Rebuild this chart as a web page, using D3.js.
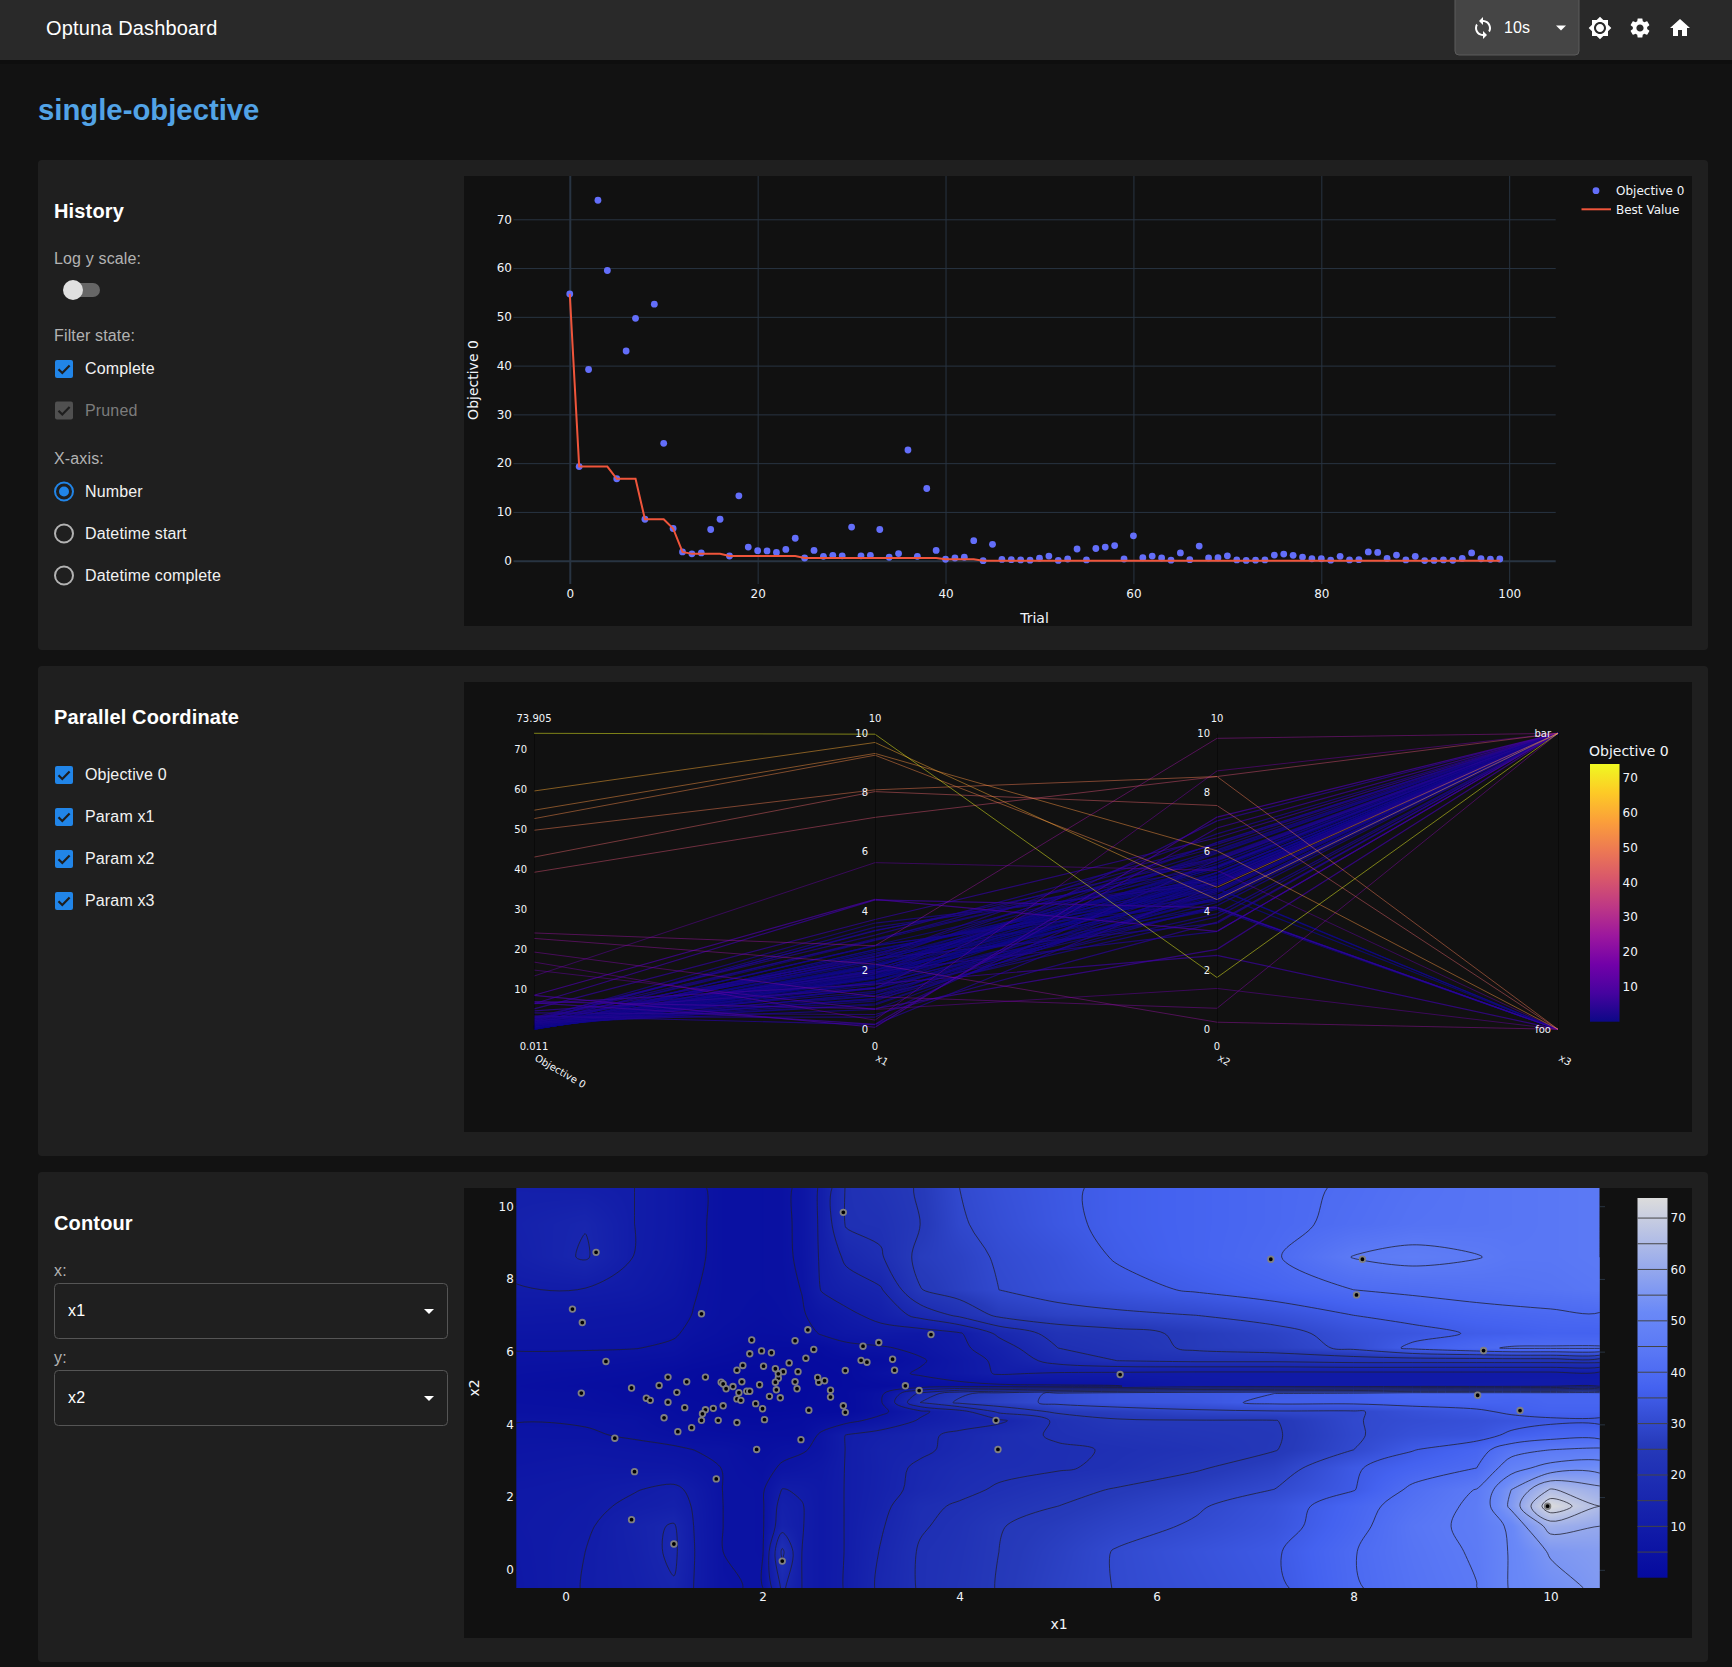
<!DOCTYPE html>
<html>
<head>
<meta charset="utf-8">
<title>Optuna Dashboard</title>
<script src="https://cdn.jsdelivr.net/npm/d3@7"></script>
<style>
  html, body { margin: 0; padding: 0; background: #121212; }
  svg { display: block; }
  text { font-family: "Liberation Sans", Arial, sans-serif; letter-spacing: 0.15px; }
  .plot text { font-family: "DejaVu Sans", Verdana, sans-serif; fill: #f2f5fa; letter-spacing: 0; }
</style>
</head>
<body>
<div id="page"></div>
<script>
// ---- data ----

// objective value of each trial, trial number is the index
var objectiveValues = [
  54.7, 19.3, 39.2, 73.905, 59.5, 16.8, 43.0, 49.7, 8.5, 52.6,
  24.06, 6.6, 1.8, 1.4, 1.6, 6.4, 8.5, 0.96, 13.3, 2.8,
  2.05, 2.0, 1.7, 2.3, 4.6, 0.55, 2.1, 0.9, 1.1, 1.0,
  6.9, 1.0, 1.1, 6.4, 0.7, 1.45, 22.7, 0.9, 14.8, 2.1,
  0.3, 0.55, 0.7, 4.1, 0.011, 3.35, 0.25, 0.2, 0.15, 0.1,
  0.5, 0.95, 0.05, 0.35, 2.4, 0.15, 2.5, 2.8, 3.1, 0.35,
  5.1, 0.6, 0.95, 0.55, 0.1, 1.6, 0.2, 3.0, 0.55, 0.6,
  1.0, 0.15, 0.05, 0.1, 0.15, 1.15, 1.35, 1.1, 0.75, 0.4,
  0.4, 0.1, 0.9, 0.15, 0.2, 1.8, 1.7, 0.45, 1.15, 0.15,
  0.9, 0.03, 0.06, 0.15, 0.08, 0.45, 1.6, 0.4, 0.3, 0.35
];

var bestValues = [
  54.7, 19.3, 19.3, 19.3, 19.3, 16.8, 16.8, 16.8, 8.5, 8.5,
  8.5, 6.6, 1.8, 1.4, 1.4, 1.4, 1.4, 0.96, 0.96, 0.96,
  0.96, 0.96, 0.96, 0.96, 0.96, 0.55, 0.55, 0.55, 0.55, 0.55,
  0.55, 0.55, 0.55, 0.55, 0.55, 0.55, 0.55, 0.55, 0.55, 0.55,
  0.3, 0.3, 0.3, 0.3, 0.011, 0.011, 0.011, 0.011, 0.011, 0.011,
  0.011, 0.011, 0.011, 0.011, 0.011, 0.011, 0.011, 0.011, 0.011, 0.011,
  0.011, 0.011, 0.011, 0.011, 0.011, 0.011, 0.011, 0.011, 0.011, 0.011,
  0.011, 0.011, 0.011, 0.011, 0.011, 0.011, 0.011, 0.011, 0.011, 0.011,
  0.011, 0.011, 0.011, 0.011, 0.011, 0.011, 0.011, 0.011, 0.011, 0.011,
  0.011, 0.011, 0.011, 0.011, 0.011, 0.011, 0.011, 0.011, 0.011, 0.011
];

var paramX1 = [
  9.32, 1.10, 7.16, 9.97, 9.69, 0.31, 8.03, 8.09, 4.39, 9.26,
  2.82, 0.17, 2.33, 2.52, 3.00, 4.37, 0.07, 1.74, 5.63, 2.46,
  3.34, 3.45, 1.28, 3.32, 1.38, 2.27, 1.14, 1.87, 0.95, 1.99,
  0.70, 1.04, 2.84, 1.53, 1.42, 0.82, 2.20, 2.44, 0.67, 2.39,
  1.74, 2.69, 1.13, 0.50, 1.97, 0.16, 2.21, 1.58, 1.74, 2.16,
  2.69, 2.09, 1.84, 2.57, 3.02, 1.78, 3.59, 1.94, 0.41, 2.36,
  3.71, 2.47, 2.84, 1.50, 1.70, 3.06, 1.93, 3.18, 1.23, 2.02,
  1.55, 2.16, 2.13, 1.79, 1.60, 1.04, 0.86, 1.38, 1.39, 2.01,
  2.56, 2.35, 1.21, 1.63, 2.33, 1.89, 1.00, 2.63, 2.82, 2.18,
  1.80, 2.14, 1.87, 2.07, 1.76, 1.42, 0.67, 1.60, 2.13, 2.00
];

var paramX2 = [
  6.03, 0.71, 8.54, 1.75, 4.38, 8.73, 7.56, 8.54, 3.31, 4.80,
  9.83, 6.80, 6.30, 6.06, 5.76, 4.11, 7.17, 4.05, 5.37, 6.60,
  5.49, 5.06, 3.91, 5.79, 7.04, 5.69, 3.80, 5.94, 5.07, 6.02,
  2.70, 5.30, 4.33, 2.50, 4.40, 4.72, 0.24, 5.82, 1.38, 3.58,
  5.49, 4.75, 4.88, 3.62, 5.09, 4.86, 5.45, 5.16, 4.70, 5.27,
  4.94, 5.97, 4.91, 5.16, 6.15, 4.66, 4.93, 3.31, 5.73, 5.45,
  6.47, 4.39, 5.48, 4.44, 5.04, 5.71, 4.57, 6.25, 5.17, 4.13,
  4.11, 5.39, 5.16, 5.17, 5.11, 4.61, 4.66, 4.11, 4.29, 5.60,
  5.29, 4.98, 4.46, 4.98, 5.17, 6.32, 4.18, 5.20, 4.51, 4.73,
  5.62, 4.95, 4.91, 4.77, 4.87, 5.30, 5.00, 4.51, 5.53, 4.43
];

var paramX3 = [
  "foo", "bar", "bar", "bar", "bar", "bar", "foo", "foo", "bar", "bar",
  "bar", "bar", "bar", "bar", "bar", "foo", "bar", "foo", "foo", "bar",
  "bar", "bar", "bar", "bar", "bar", "bar", "bar", "bar", "bar", "bar",
  "bar", "bar", "bar", "foo", "bar", "bar", "foo", "bar", "foo", "bar",
  "bar", "foo", "bar", "bar", "bar", "bar", "bar", "bar", "bar", "bar",
  "bar", "bar", "bar", "bar", "bar", "bar", "bar", "bar", "bar", "bar",
  "bar", "bar", "bar", "bar", "bar", "bar", "foo", "bar", "bar", "foo",
  "foo", "bar", "bar", "bar", "bar", "bar", "bar", "foo", "bar", "bar",
  "bar", "bar", "bar", "bar", "bar", "bar", "bar", "bar", "bar", "bar",
  "bar", "bar", "bar", "foo", "bar", "bar", "bar", "bar", "bar", "bar"
];

// tick labels
var historyXTicks = [0, 20, 40, 60, 80, 100];
var historyYTicks = [0, 10, 20, 30, 40, 50, 60, 70];
var objectiveTicks = [10, 20, 30, 40, 50, 60, 70];
var paramTicks = [0, 2, 4, 6, 8, 10];
var categories = ["bar", "foo"];
var contourTicks = [0, 2, 4, 6, 8, 10];
var contourLevels = [5, 10, 15, 20, 25, 30, 35, 40, 45, 50, 55, 60, 65, 70];

// contour surface, estimated from the colours and lines of the picture
var gridX1 = [-0.5, 0.2, 0.7, 1.1, 1.3, 1.6, 2.0, 2.2, 2.4, 2.6, 2.85, 3.2, 3.6, 4.0, 4.4, 5.0, 5.6, 6.4, 7.2, 8.0, 8.6, 9.25, 9.6, 10.0, 10.5];
var gridX2 = [10.5, 9.5, 8.6, 7.7, 7.0, 6.5, 6.1, 5.75, 5.4, 5.05, 4.85, 4.6, 4.35, 4.1, 3.7, 3.3, 2.8, 2.2, 1.75, 1.2, 0.5, -0.5];
var gridZ = [
  [11.5, 11, 10, 8, 5.8, 4, 3.5, 4, 6, 11, 20.5, 22.5, 25.5, 30, 32, 34.2, 36, 37.5, 39, 40.5, 42, 43, 43.5, 44, 45],
  [12.5, 14.8, 10, 8, 5.8, 4, 3.5, 4, 6, 11, 20.5, 21, 25, 29.5, 31.5, 34, 36, 37.5, 39, 41, 42.5, 43, 43.5, 44, 45],
  [11.8, 15.5, 9.8, 7.8, 5.7, 4, 3.5, 4, 5.8, 10.8, 16, 19.5, 26.5, 28, 30.6, 32.5, 35.4, 37.5, 39.5, 45.2, 46.5, 45.2, 44, 44, 45],
  [9.6, 9.7, 8.8, 7, 5.2, 4, 3.5, 3.8, 5.1, 10.3, 12.5, 14.5, 24.8, 27.5, 30, 32, 33.5, 35.5, 37.5, 40, 41, 42, 42.5, 43, 44],
  [7.5, 7, 6.5, 5.8, 4.9, 3.9, 3, 3.5, 4.6, 6.5, 8.8, 11.5, 16.5, 21, 26, 28, 29, 30, 32, 35, 36.5, 38, 38.5, 39, 39.5],
  [6, 6, 5.8, 5.3, 4.3, 3.3, 2.4, 2.6, 3.2, 5.4, 6.8, 8, 7.5, 9.5, 16, 22, 23.5, 26, 28.3, 32, 33.5, 35.5, 36, 37, 37],
  [5.2, 5.2, 5.1, 4.5, 3.2, 2.5, 1.4, 1.3, 1.3, 1.6, 3.8, 4.5, 6, 9, 12.5, 20, 22, 26, 27.5, 31, 36, 39, 40.5, 40.5, 40.5],
  [4.4, 4.2, 3.6, 3, 2.2, 1.5, 0.9, 0.7, 0.6, 0.9, 1.3, 1.9, 4.5, 7.5, 11, 17, 20, 21, 21, 22, 22, 22, 22, 22, 22],
  [3.6, 3, 2.4, 1.5, 0.9, 0.5, 0.35, 0.25, 0.35, 0.5, 0.95, 3.5, 5.5, 7.5, 10.5, 9.5, 9, 8.5, 8.5, 8.5, 8.5, 8.5, 8.5, 8.5, 8.5],
  [3, 2.2, 1.6, 0.95, 0.7, 0.2, 0.02, 0.05, 0.12, 0.35, 0.9, 1.5, 2.5, 3.5, 4, 4.5, 4.8, 8, 8.5, 8.5, 9, 9, 9.3, 9.5, 9.5],
  [3.3, 3, 1.9, 0.85, 0.6, 0.2, 0.05, 0.1, 0.2, 0.45, 1.2, 4, 16, 24, 27, 31, 33, 34, 35, 36, 38, 38, 38, 38, 38],
  [3.5, 3.2, 2.2, 1.2, 0.9, 0.45, 0.2, 0.2, 0.25, 0.5, 0.9, 4.5, 20, 26, 28, 31, 33, 33.5, 36, 36, 37, 37.5, 37, 38, 38],
  [3.9, 3.6, 3, 1.9, 1.2, 0.8, 0.4, 0.4, 0.55, 0.8, 1.15, 4, 9, 13, 21, 26, 27, 29, 29.5, 29.5, 32, 34, 36, 37, 37],
  [4.9, 4.7, 4.2, 2.2, 1.9, 1.1, 0.9, 1.4, 1.8, 2.7, 3.8, 6.5, 10.5, 13, 14, 21, 24.5, 24.7, 24.8, 29.8, 31, 32, 33, 34, 34],
  [5.6, 5.4, 4.6, 3.8, 3, 2.6, 2.3, 2.2, 2.3, 5.8, 10.2, 12, 14, 16, 18.5, 20.5, 22, 23.5, 24.5, 29.5, 32, 33, 36, 38, 38],
  [6, 6.5, 6, 5.5, 5, 4.8, 2.9, 4, 4.6, 6, 10.2, 13, 14, 16.5, 18.5, 19.5, 20.3, 22, 24.8, 30, 34.8, 38, 43, 45, 46],
  [6.8, 7.5, 7.2, 7, 6.2, 4.9, 3.8, 5.5, 6.5, 7.5, 10.2, 12.8, 16, 18, 19, 19.5, 21, 24.5, 27.5, 34.5, 37.5, 40, 48, 52, 53],
  [7.8, 8.5, 9.8, 11, 9, 4.9, 4.5, 10.2, 9.5, 8, 10.2, 13, 16.5, 19, 20.5, 23, 25.5, 27.5, 30.1, 34.8, 41, 45.2, 55, 65.5, 61.5],
  [8, 9, 10.8, 12, 9.7, 5, 4.5, 12, 10.2, 8, 10.2, 13.5, 19, 20.5, 22.5, 25, 27, 29.5, 32.5, 38, 42.3, 46, 56, 73.9, 65],
  [8.2, 9.3, 13, 15.5, 10, 5, 4.5, 13, 10.2, 8, 10.2, 14.5, 19.5, 21.5, 24.8, 26.5, 28.5, 30.5, 33, 38.5, 43.5, 46, 51, 62, 60],
  [7.8, 10, 12.5, 16, 10.2, 5, 4.5, 21, 10, 8, 10.2, 15.3, 20.5, 22, 25, 27.5, 30.3, 32.5, 34.5, 39.8, 43, 45.5, 50.5, 55.5, 57],
  [7.5, 10.2, 12, 14.5, 10, 5.2, 4.8, 16, 10, 8, 10.3, 16, 20.5, 22.5, 25.3, 28, 30.2, 32, 34, 39.5, 42.5, 44.9, 50.5, 53, 56]
];

// colour scales used by plotly
var plasmaStops = ["#0d0887", "#46039f", "#7201a8", "#9c179e", "#bd3786", "#d8576b", "#ed7953", "#fb9f3a", "#fdca26", "#f0f921"];
var bluesPositions = [0, 0.35, 0.5, 0.6, 0.7, 1];
var bluesStops = ["rgb(5,10,158)", "rgb(38,58,186)", "rgb(68,98,240)", "rgb(90,120,245)", "rgb(106,137,247)", "rgb(220,220,220)"];

// text of the side panels
var parallelOptions = ["Objective 0", "Param x1", "Param x2", "Param x3"];

// ---- page ----
var svgWidth = 1732;
var svgHeight = 1667;
var gridColor = "#283442";
var plotBg = "#111111";

var svg = d3.select("#page").append("svg")
  .attr("width", svgWidth)
  .attr("height", svgHeight);

var defs = svg.append("defs");

function label(parent, x, y, str, size, color, weight) {
  return parent.append("text")
    .attr("x", x)
    .attr("y", y)
    .attr("dominant-baseline", "central")
    .attr("font-size", size)
    .attr("font-weight", weight || "normal")
    .attr("fill", color)
    .text(str);
}

function checkbox(parent, cy, color) {
  parent.append("rect")
    .attr("x", 55).attr("y", cy - 9)
    .attr("width", 18).attr("height", 18)
    .attr("rx", 2)
    .attr("fill", color);
  parent.append("path")
    .attr("d", d3.line()([[58.5, cy + 0.2], [62.3, cy + 4], [69.6, cy - 3.4]]))
    .attr("fill", "none")
    .attr("stroke", "#1e1e1e")
    .attr("stroke-width", 2.2);
}

function radio(parent, cy, color, checked) {
  parent.append("circle")
    .attr("cx", 64).attr("cy", cy).attr("r", 9)
    .attr("fill", "none")
    .attr("stroke", color)
    .attr("stroke-width", 2);
  if (checked) {
    parent.append("circle")
      .attr("cx", 64).attr("cy", cy).attr("r", 5)
      .attr("fill", color);
  }
}

function icon(parent, cx, cy, d) {
  parent.append("path")
    .attr("transform", "translate(" + (cx - 12) + "," + (cy - 12) + ")")
    .attr("d", d)
    .attr("fill", "#ffffff");
}

function selectBox(parent, top, str) {
  parent.append("rect")
    .attr("x", 54.5).attr("y", top)
    .attr("width", 393).attr("height", 55)
    .attr("rx", 4)
    .attr("fill", "none")
    .attr("stroke", "#555555");
  label(parent, 68, top + 26.5, str, 16, "#ffffff");
  parent.append("path")
    .attr("d", d3.line()([[424, top + 25.5], [434, top + 25.5], [429, top + 30.5]]))
    .attr("fill", "#ffffff");
}

// header bar
var header = svg.append("g");
header.append("rect").attr("width", svgWidth).attr("height", 60).attr("fill", "#292929");
header.append("rect").attr("y", 60).attr("width", svgWidth).attr("height", 4).attr("fill", "#0e0e0e");
label(header, 46, 27.5, "Optuna Dashboard", 20, "#ffffff");
header.append("rect")
  .attr("x", 1455).attr("y", -5)
  .attr("width", 124).attr("height", 60)
  .attr("rx", 4)
  .attr("fill", "#454545")
  .attr("stroke", "#5c5c5c");
icon(header, 1483, 28, "M12 4V1L8 5l4 4V6c3.31 0 6 2.69 6 6 0 1.01-.25 1.97-.7 2.8l1.46 1.46C19.54 15.03 20 13.57 20 12c0-4.42-3.58-8-8-8zm0 14c-3.31 0-6-2.69-6-6 0-1.01.25-1.97.7-2.8L5.24 7.74C4.46 8.97 4 10.43 4 12c0 4.42 3.58 8 8 8v3l4-4-4-4v3z");
label(header, 1504, 27.5, "10s", 16, "#ffffff");
header.append("path")
  .attr("d", d3.line()([[1556, 25.5], [1566, 25.5], [1561, 30.5]]))
  .attr("fill", "#ffffff");
icon(header, 1600, 28, "M20 8.69V4h-4.69L12 .69 8.69 4H4v4.69L.69 12 4 15.31V20h4.69L12 23.31 15.31 20H20v-4.69L23.31 12 20 8.69zM12 18c-3.31 0-6-2.69-6-6s2.69-6 6-6 6 2.69 6 6-2.69 6-6 6zm0-10c-2.21 0-4 1.79-4 4s1.79 4 4 4 4-1.79 4-4-1.79-4-4-4z");
icon(header, 1640, 28, "M19.14 12.94c.04-.3.06-.61.06-.94 0-.32-.02-.64-.07-.94l2.03-1.58c.18-.14.23-.41.12-.61l-1.92-3.32c-.12-.22-.37-.29-.59-.22l-2.39.96c-.5-.38-1.03-.7-1.62-.94l-.36-2.54c-.04-.24-.24-.41-.48-.41h-3.84c-.24 0-.43.17-.47.41l-.36 2.54c-.59.24-1.13.57-1.62.94l-2.39-.96c-.22-.08-.47 0-.59.22L2.74 8.87c-.12.21-.08.47.12.61l2.03 1.58c-.05.3-.09.63-.09.94s.02.64.07.94l-2.03 1.58c-.18.14-.23.41-.12.61l1.92 3.32c.12.22.37.29.59.22l2.39-.96c.5.38 1.03.7 1.62.94l.36 2.54c.05.24.24.41.48.41h3.84c.24 0 .44-.17.47-.41l.36-2.54c.59-.24 1.13-.56 1.62-.94l2.39.96c.22.08.47 0 .59-.22l1.92-3.32c.12-.22.07-.47-.12-.61l-2.01-1.58zM12 15.6c-1.98 0-3.6-1.62-3.6-3.6s1.62-3.6 3.6-3.6 3.6 1.62 3.6 3.6-1.62 3.6-3.6 3.6z");
icon(header, 1680, 28, "M10 20v-6h4v6h5v-8h3L12 3 2 12h3v8z");

label(svg, 38, 109, "single-objective", 29.3, "#52a3e6", "bold").style("letter-spacing", "0");

// the three cards with their black plot areas
[160, 666, 1172].forEach(function (top) {
  svg.append("rect")
    .attr("x", 38).attr("y", top)
    .attr("width", 1670).attr("height", 490)
    .attr("rx", 4)
    .attr("fill", "#1f1f1f");
  svg.append("rect")
    .attr("x", 464).attr("y", top + 16)
    .attr("width", 1228).attr("height", 450)
    .attr("fill", plotBg);
});

// ---- history side panel ----
var side1 = svg.append("g");
label(side1, 54, 211, "History", 20, "#ffffff", "bold");
label(side1, 54, 258.5, "Log y scale:", 16, "#b3b3b3");
side1.append("rect")
  .attr("x", 66).attr("y", 283)
  .attr("width", 34).attr("height", 14)
  .attr("rx", 7)
  .attr("fill", "#666666");
side1.append("circle").attr("cx", 73).attr("cy", 290).attr("r", 10).attr("fill", "#e0e0e0");
label(side1, 54, 335, "Filter state:", 16, "#b3b3b3");
checkbox(side1, 369, "#2185e8");
label(side1, 85, 368.5, "Complete", 16, "#f2f2f2");
checkbox(side1, 410.5, "#505050");
label(side1, 85, 410.5, "Pruned", 16, "#7c7c7c");
label(side1, 54, 458, "X-axis:", 16, "#b3b3b3");
radio(side1, 491.5, "#2185e8", true);
label(side1, 85, 491, "Number", 16, "#f2f2f2");
radio(side1, 533.5, "#b3b3b3", false);
label(side1, 85, 533, "Datetime start", 16, "#f2f2f2");
radio(side1, 575.5, "#b3b3b3", false);
label(side1, 85, 575.5, "Datetime complete", 16, "#f2f2f2");

// ---- parallel side panel ----
var side2 = svg.append("g");
label(side2, 54, 717, "Parallel Coordinate", 20, "#ffffff", "bold");
parallelOptions.forEach(function (name, i) {
  checkbox(side2, 775 + i * 42, "#2185e8");
  label(side2, 85, 774.5 + i * 42, name, 16, "#f2f2f2");
});

// ---- contour side panel ----
var side3 = svg.append("g");
label(side3, 54, 1223, "Contour", 20, "#ffffff", "bold");
label(side3, 54, 1270.5, "x:", 16, "#b3b3b3");
selectBox(side3, 1283.5, "x1");
label(side3, 54, 1357.5, "y:", 16, "#b3b3b3");
selectBox(side3, 1370.5, "x2");

// ---- history plot ----
var trials = d3.range(objectiveValues.length);

var historyX = d3.scaleLinear().domain([-5.99, 104.95]).range([513.5, 1555.7]);
var historyY = d3.scaleLinear().domain([-4.78, 78.88]).range([584, 176]);

var historyPlot = svg.append("g").attr("class", "plot");

function styleAxis(axisG, lineColor) {
  axisG.select(".domain").remove();
  axisG.selectAll(".tick line").attr("stroke", lineColor);
  axisG.selectAll("text").attr("font-family", "DejaVu Sans").attr("font-size", 12);
}

var historyXAxis = historyPlot.append("g")
  .attr("transform", "translate(0,584)")
  .call(d3.axisBottom(historyX).tickValues(historyXTicks).tickSize(-408).tickPadding(5.5));
styleAxis(historyXAxis, gridColor);
historyXAxis.selectAll(".tick line").filter(function (d) { return d === 0; }).attr("stroke-width", 2);

var historyYAxis = historyPlot.append("g")
  .attr("transform", "translate(513.5,0)")
  .call(d3.axisLeft(historyY).tickValues(historyYTicks).tickSize(-1042.2).tickPadding(1.5));
styleAxis(historyYAxis, gridColor);
historyYAxis.selectAll(".tick line").filter(function (d) { return d === 0; }).attr("stroke-width", 2);

historyPlot.selectAll("circle.trial")
  .data(trials)
  .enter()
  .append("circle")
  .attr("class", "trial")
  .attr("cx", function (i) { return historyX(i); })
  .attr("cy", function (i) { return historyY(objectiveValues[i]); })
  .attr("r", 3.4)
  .attr("fill", "#636efa");

historyPlot.append("path")
  .attr("d", d3.line()
    .x(function (i) { return historyX(i); })
    .y(function (i) { return historyY(bestValues[i]); })(trials))
  .attr("fill", "none")
  .attr("stroke", "#ef553b")
  .attr("stroke-width", 2);

label(historyPlot, 1034.5, 618, "Trial", 14, "#f2f5fa").attr("text-anchor", "middle").attr("font-size", 14);
historyPlot.append("text")
  .attr("transform", "translate(473,380) rotate(-90)")
  .attr("text-anchor", "middle")
  .attr("dominant-baseline", "central")
  .attr("font-size", 14)
  .text("Objective 0");

// legend
historyPlot.append("circle").attr("cx", 1596).attr("cy", 190.7).attr("r", 3.4).attr("fill", "#636efa");
label(historyPlot, 1616, 190.5, "Objective 0", 12, "#f2f5fa");
historyPlot.append("line")
  .attr("x1", 1581.5).attr("x2", 1611)
  .attr("y1", 209.3).attr("y2", 209.3)
  .attr("stroke", "#ef553b").attr("stroke-width", 2);
label(historyPlot, 1616, 210, "Best Value", 12, "#f2f5fa");

// ---- parallel coordinates ----
var parTop = 733.3;
var parBottom = 1029.3;
var axisObjX = 534;
var axisX1X = 875;
var axisX2X = 1217;
var axisX3X = 1558;

var objScale = d3.scaleLinear().domain([0.011, 73.905]).range([parBottom, parTop]);
var x1Scale = d3.scaleLinear().domain([0, 10]).range([parBottom, parTop]);
var x2Scale = d3.scaleLinear().domain([0, 10]).range([parBottom, parTop]);
var x3Scale = d3.scalePoint().domain(categories).range([parTop, parBottom]);

var plasma = d3.scaleLinear()
  .domain(plasmaStops.map(function (c, i) { return 0.011 + (73.905 - 0.011) * i / (plasmaStops.length - 1); }))
  .range(plasmaStops);

var parallelPlot = svg.append("g").attr("class", "plot");

var parallelOrder = trials.slice().sort(function (a, b) {
  return d3.ascending(objectiveValues[a], objectiveValues[b]);
});

var parLine = d3.line();

parallelPlot.selectAll("path.trial")
  .data(parallelOrder)
  .enter()
  .append("path")
  .attr("class", "trial")
  .attr("d", function (i) {
    return parLine([
      [axisObjX, objScale(objectiveValues[i])],
      [axisX1X, x1Scale(paramX1[i])],
      [axisX2X, x2Scale(paramX2[i])],
      [axisX3X, x3Scale(paramX3[i])]
    ]);
  })
  .attr("fill", "none")
  .attr("stroke", function (i) { return plasma(objectiveValues[i]); })
  .attr("stroke-width", function (i) { return objectiveValues[i] > 10 ? 0.9 : 1.2; })
  .attr("stroke-opacity", function (i) { return objectiveValues[i] > 10 ? 0.55 : 0.75; });

function parAxis(x, axis) {
  var g = parallelPlot.append("g")
    .attr("transform", "translate(" + x + ",0)")
    .call(axis.tickSize(0).tickPadding(7));
  g.select(".domain").attr("stroke", "#000000").attr("stroke-opacity", 0.4);
  g.selectAll("text").attr("font-family", "DejaVu Sans").attr("font-size", 10);
}

parAxis(axisObjX, d3.axisLeft(objScale).tickValues(objectiveTicks));
parAxis(axisX1X, d3.axisLeft(x1Scale).tickValues(paramTicks));
parAxis(axisX2X, d3.axisLeft(x2Scale).tickValues(paramTicks));
parAxis(axisX3X, d3.axisLeft(x3Scale));

function rangeLabel(x, y, str) {
  label(parallelPlot, x, y, str, 10, "#f2f5fa").attr("text-anchor", "middle");
}
rangeLabel(axisObjX, 718.3, "73.905");
rangeLabel(axisObjX, 1046.7, "0.011");
rangeLabel(axisX1X, 718.3, "10");
rangeLabel(axisX1X, 1046.7, "0");
rangeLabel(axisX2X, 718.3, "10");
rangeLabel(axisX2X, 1046.7, "0");

function axisTitle(x, str) {
  parallelPlot.append("text")
    .attr("transform", "translate(" + x + ",1060) rotate(30)")
    .attr("font-size", 10)
    .text(str);
}
axisTitle(axisObjX, "Objective 0");
axisTitle(axisX1X, "x1");
axisTitle(axisX2X, "x2");
axisTitle(axisX3X, "x3");

// plasma colorbar
var plasmaBar = d3.scaleLinear().domain([0.011, 73.905]).range([1021.7, 764]);
var plasmaGradient = defs.append("linearGradient")
  .attr("id", "plasmaGradient")
  .attr("x1", 0).attr("y1", 1).attr("x2", 0).attr("y2", 0);
plasmaStops.forEach(function (c, i) {
  plasmaGradient.append("stop")
    .attr("offset", i / (plasmaStops.length - 1))
    .attr("stop-color", c);
});
parallelPlot.append("rect")
  .attr("x", 1590).attr("y", 764)
  .attr("width", 29.5).attr("height", 257.7)
  .attr("fill", "url(#plasmaGradient)");
var plasmaAxis = parallelPlot.append("g")
  .attr("transform", "translate(1619.5,0)")
  .call(d3.axisRight(plasmaBar).tickValues(objectiveTicks).tickSize(0).tickPadding(3));
plasmaAxis.select(".domain").remove();
plasmaAxis.selectAll("text").attr("font-family", "DejaVu Sans").attr("font-size", 12);
label(parallelPlot, 1589, 751, "Objective 0", 14, "#f2f5fa");

// ---- contour plot ----
var contourX = d3.scaleLinear().domain([-0.5, 10.5]).range([516.3, 1599.8]);
var contourY = d3.scaleLinear().domain([-0.5, 10.5]).range([1588, 1188]);

var contourPlot = svg.append("g").attr("class", "plot");

// the grid shows only as small stubs right of the surface
var contourYAxis = contourPlot.append("g")
  .attr("transform", "translate(516.3,0)")
  .call(d3.axisLeft(contourY).tickValues(contourTicks).tickSize(-1088.7).tickPadding(2.5));
styleAxis(contourYAxis, gridColor);
var contourXAxis = contourPlot.append("g")
  .attr("transform", "translate(0,1588)")
  .call(d3.axisBottom(contourX).tickValues(contourTicks).tickSize(0).tickPadding(4.5));
styleAxis(contourXAxis, gridColor);

var blues = d3.scaleLinear()
  .domain(bluesPositions.map(function (t) { return 0.011 + (73.905 - 0.011) * t; }))
  .range(bluesStops);

var nx = gridX1.length;
var ny = gridX2.length;
var colIndex = d3.scaleLinear().domain(gridX1).range(d3.range(nx)).clamp(true);
var rowIndex = d3.scaleLinear().domain(gridX2).range(d3.range(ny)).clamp(true);

function surface(v1, v2) {
  var fx = colIndex(v1);
  var fy = rowIndex(v2);
  var i = Math.min(Math.floor(fx), nx - 2);
  var j = Math.min(Math.floor(fy), ny - 2);
  var u = fx - i;
  var w = fy - j;
  var top = gridZ[j][i] * (1 - u) + gridZ[j][i + 1] * u;
  var bottom = gridZ[j + 1][i] * (1 - u) + gridZ[j + 1][i + 1] * u;
  return top * (1 - w) + bottom * w;
}

// paint the surface into a canvas and use it as an image
var imgW = 1084;
var imgH = 400;
var canvas = document.createElement("canvas");
canvas.width = imgW;
canvas.height = imgH;
var ctx = canvas.getContext("2d");
var image = ctx.createImageData(imgW, imgH);
for (var py = 0; py < imgH; py++) {
  for (var px = 0; px < imgW; px++) {
    var c = d3.rgb(blues(surface(contourX.invert(516 + px + 0.5), contourY.invert(1188 + py + 0.5))));
    var at = (py * imgW + px) * 4;
    image.data[at] = c.r;
    image.data[at + 1] = c.g;
    image.data[at + 2] = c.b;
    image.data[at + 3] = 255;
  }
}
ctx.putImageData(image, 0, 0);

defs.append("clipPath").attr("id", "contourClip")
  .append("rect")
  .attr("x", 516.3).attr("y", 1188)
  .attr("width", 1083.5).attr("height", 400);

var surfaceGroup = contourPlot.append("g").attr("clip-path", "url(#contourClip)");
surfaceGroup.append("image")
  .attr("x", 516).attr("y", 1188)
  .attr("width", imgW).attr("height", imgH)
  .attr("href", canvas.toDataURL());

// contour lines from d3.contours, grid index mapped back to the plot
var colToPixel = d3.scaleLinear()
  .domain(gridX1.map(function (v, i) { return i + 0.5; }))
  .range(gridX1.map(function (v) { return contourX(v); }));
var rowToPixel = d3.scaleLinear()
  .domain(gridX2.map(function (v, j) { return j + 0.5; }))
  .range(gridX2.map(function (v) { return contourY(v); }));

var contourPolygons = d3.contours()
  .size([nx, ny])
  .thresholds(contourLevels)(d3.merge(gridZ));

// smooth the rings so they do not show the grid cells
var ringLine = d3.line()
  .x(function (p) { return colToPixel(p[0]); })
  .y(function (p) { return rowToPixel(p[1]); })
  .curve(d3.curveCatmullRomClosed.alpha(0.5));

function levelPath(multi) {
  var d = "";
  multi.coordinates.forEach(function (polygon) {
    polygon.forEach(function (ring) {
      d += ringLine(ring.slice(0, -1));
    });
  });
  return d;
}

surfaceGroup.selectAll("path.level")
  .data(contourPolygons)
  .enter()
  .append("path")
  .attr("class", "level")
  .attr("d", levelPath)
  .attr("fill", "none")
  .attr("stroke", "#20202c")
  .attr("stroke-opacity", 0.85)
  .attr("stroke-width", 0.9);

contourPlot.selectAll("circle.trial")
  .data(trials)
  .enter()
  .append("circle")
  .attr("class", "trial")
  .attr("cx", function (i) { return contourX(paramX1[i]); })
  .attr("cy", function (i) { return contourY(paramX2[i]); })
  .attr("r", 2.8)
  .attr("fill", "#000000")
  .attr("stroke", "#808080")
  .attr("stroke-width", 1.8);

label(contourPlot, 1059, 1623.5, "x1", 14, "#f2f5fa").attr("text-anchor", "middle");
contourPlot.append("text")
  .attr("transform", "translate(473.5,1388) rotate(-90)")
  .attr("text-anchor", "middle")
  .attr("dominant-baseline", "central")
  .attr("font-size", 14)
  .text("x2");

// blues colorbar with the contour levels on it
var bluesBar = d3.scaleLinear().domain([0.011, 73.905]).range([1577.7, 1198]);
var bluesGradient = defs.append("linearGradient")
  .attr("id", "bluesGradient")
  .attr("x1", 0).attr("y1", 1).attr("x2", 0).attr("y2", 0);
bluesPositions.forEach(function (t, i) {
  bluesGradient.append("stop").attr("offset", t).attr("stop-color", bluesStops[i]);
});
contourPlot.append("rect")
  .attr("x", 1637.5).attr("y", 1198)
  .attr("width", 30).attr("height", 379.7)
  .attr("fill", "url(#bluesGradient)");
contourPlot.selectAll("line.level")
  .data(contourLevels)
  .enter()
  .append("line")
  .attr("class", "level")
  .attr("x1", 1637.5).attr("x2", 1667.5)
  .attr("y1", function (d) { return bluesBar(d); })
  .attr("y2", function (d) { return bluesBar(d); })
  .attr("stroke", "#444444");
var bluesAxis = contourPlot.append("g")
  .attr("transform", "translate(1667.5,0)")
  .call(d3.axisRight(bluesBar).tickValues(objectiveTicks).tickSize(0).tickPadding(3));
bluesAxis.select(".domain").remove();
bluesAxis.selectAll("text").attr("font-family", "DejaVu Sans").attr("font-size", 12);
</script>
</body>
</html>
